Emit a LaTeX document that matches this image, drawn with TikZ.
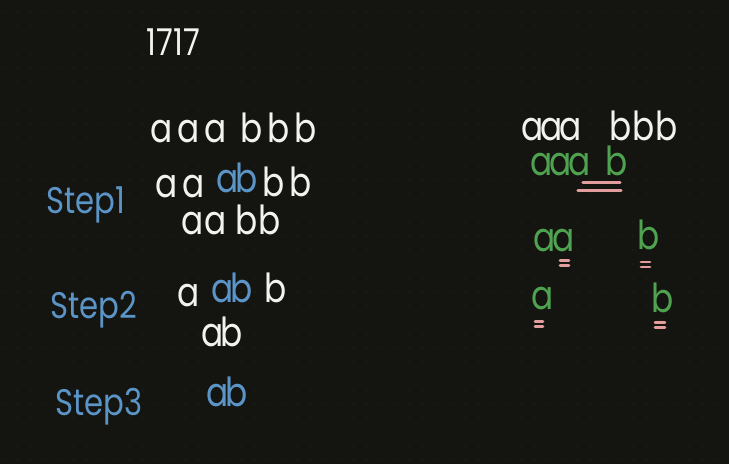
\documentclass[tikz,border=0pt]{standalone}
\usepackage{fontspec}
\newfontfamily\handL[LetterSpace=12,FakeStretch=0.82]{Poppins}
\newfontfamily\handM[LetterSpace=2,FakeStretch=0.82]{Poppins}
\newfontfamily\handT[LetterSpace=-8,FakeStretch=0.82]{Poppins}
\newfontfamily\handlab[FakeStretch=0.83]{Poppins}
\definecolor{bg}{HTML}{141410}
\definecolor{dotc}{HTML}{2C2C27}
\definecolor{ink}{HTML}{F2F2EE}
\definecolor{blu}{HTML}{5B95C8}
\definecolor{grn}{HTML}{4FA24F}
\definecolor{pnk}{HTML}{E29E9C}
\begin{document}
\begin{tikzpicture}[x=1pt,y=-1pt,
  loose/.style={inner sep=0pt,anchor=base,font=\handL\fontsize{40}{41}\selectfont},
  mid/.style={inner sep=0pt,anchor=base,font=\handM\fontsize{40}{41}\selectfont},
  tight/.style={inner sep=0pt,anchor=base,font=\handT\fontsize{40}{41}\selectfont},
  lab/.style={inner sep=0pt,anchor=base,text=blu,font=\handlab\fontsize{37}{38}\selectfont},
  pinkline/.style={draw=pnk,line width=3.4pt,line cap=round},
  eqbar/.style={draw=pnk,line width=2.8pt,line cap=round}]
\fill[bg] (0,0) rectangle (729,464);
\useasboundingbox (0,0) rectangle (729,464);
\foreach \i in {0,...,52}{\foreach \j in {0,...,32}{
  \fill[dotc] (3+14*\i,12+14*\j) circle (0.7);}}
% title
\node[lab,text=ink] (title) at (173.5,55) {1717};
% left column
\node[loose,text=ink] (r1) at (233.5,142) {aaa bbb};
\node[lab] (s1) at (86,213) {Step1};
\node[loose,text=ink] (r2a) at (180,197) {aa};
\node[tight,text=blu] (r2b) at (237,192) {ab};
\node[loose,text=ink] (r2c) at (287,196) {bb};
\node[mid,text=ink] (r3) at (231,234) {aa bb};
\node[lab] (s2) at (93.5,318) {Step2};
\node[mid,text=ink] (r4a) at (189,306) {a};
\node[tight,text=blu] (r4b) at (232.5,302) {ab};
\node[mid,text=ink] (r4c) at (275.5,302) {b};
\node[tight,text=ink] (r5) at (222.5,346) {ab};
\node[lab] (s3) at (99,415) {Step3};
\node[tight,text=blu] (r6) at (227.5,406) {ab};
% right column
\node[tight,text=ink] (q1a) at (552,140) {aaa};
\node[mid,text=ink] (q1b) at (643.5,140) {bbb};
\node[tight,text=grn] (q2a) at (560.5,175) {aaa};
\node[mid,text=grn] (q2b) at (616.5,175) {b};
\coordinate (u1a) at (583,182.5); \coordinate (u1b) at (620,182.5);
\coordinate (u2a) at (578,190.5); \coordinate (u2b) at (621,190.5);
\draw[pinkline] (u1a) -- (u1b);
\draw[pinkline] (u2a) -- (u2b);
\node[tight,text=grn] (q3) at (554,251) {aa};
\node[mid,text=grn] (q4) at (648.5,249) {b};
\node[mid,text=grn] (q5) at (542.5,309) {a};
\node[mid,text=grn] (q6) at (663,312) {b};
\coordinate (m1a) at (560,260.5); \coordinate (m1b) at (569,260.5);
\coordinate (m1c) at (560,265.5); \coordinate (m1d) at (569,265.5);
\draw[eqbar] (m1a) -- (m1b) (m1c) -- (m1d);
\coordinate (m2a) at (641,262); \coordinate (m2b) at (650,262);
\coordinate (m2c) at (641,267); \coordinate (m2d) at (650,267);
\draw[eqbar] (m2a) -- (m2b) (m2c) -- (m2d);
\coordinate (m3a) at (535,321.5); \coordinate (m3b) at (543,321.5);
\coordinate (m3c) at (535,326.5); \coordinate (m3d) at (543,326.5);
\draw[eqbar] (m3a) -- (m3b) (m3c) -- (m3d);
\coordinate (m4a) at (655,322.5); \coordinate (m4b) at (665,322.5);
\coordinate (m4c) at (655,327.5); \coordinate (m4d) at (665,327.5);
\draw[eqbar] (m4a) -- (m4b) (m4c) -- (m4d);
\end{tikzpicture}
\end{document}
